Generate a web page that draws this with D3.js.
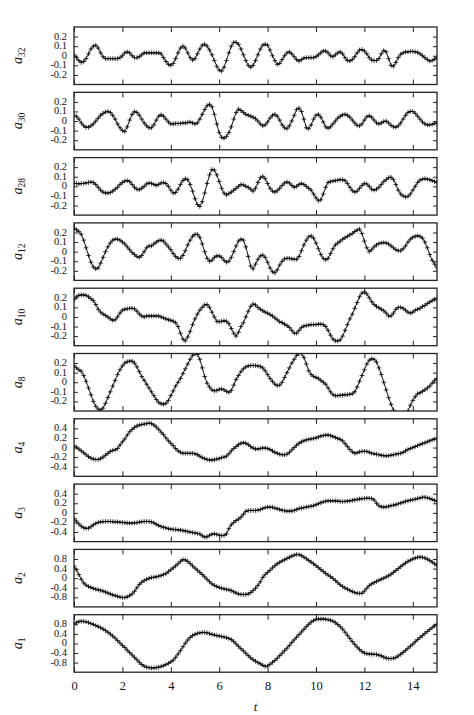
<!DOCTYPE html>
<html><head><meta charset="utf-8">
<script src="https://cdn.jsdelivr.net/npm/d3@7"></script>
<style>body{margin:0;background:#fff}</style>
</head><body><svg id="c" width="474" height="715"></svg>
<script>
// sampling grid of the time axis
const tStep = 0.1;
const xTicks = [0, 2, 4, 6, 8, 10, 12, 14];

const a32 = [0.01,-0.02,-0.05,-0.07,-0.06,-0.03,0.02,0.07,0.10,0.11, 0.08,0.03,-0.01,-0.03,-0.03,-0.03,-0.03,-0.03,-0.03,-0.02, 0.00,0.03,0.04,0.03,0.00,-0.02,-0.02,-0.01,0.01,0.03, 0.03,0.03,0.03,0.03,0.03,0.03,0.02,-0.02,-0.06,-0.09, -0.10,-0.08,-0.03,0.03,0.08,0.10,0.08,0.03,-0.02,-0.045, -0.03,0.02,0.07,0.11,0.12,0.10,0.06,0.01,-0.05,-0.11, -0.15,-0.16,-0.12,-0.05,0.03,0.10,0.14,0.14,0.12,0.07, 0.01,-0.05,-0.10,-0.12,-0.10,-0.05,0.01,0.07,0.11,0.12, 0.11,0.06,0.00,-0.05,-0.09,-0.08,-0.04,0.00,0.03,0.04, 0.02,-0.01,-0.04,-0.055,-0.04,-0.025,-0.02,-0.02,-0.02,-0.02, -0.01,0.01,0.03,0.05,0.05,0.03,0.00,-0.01,0.01,0.03, 0.04,0.02,-0.02,-0.05,-0.055,-0.04,-0.01,0.03,0.06,0.065, 0.05,0.02,-0.02,-0.045,-0.05,-0.05,-0.03,0.02,0.055,0.04, -0.03,-0.10,-0.11,-0.07,-0.02,0.015,0.03,0.04,0.04,0.045, 0.045,0.04,0.035,0.02,0.00,-0.02,-0.04,-0.055,-0.05,-0.035, -0.02];
const a30 = [0.05,0.05,0.02,-0.02,-0.05,-0.065,-0.065,-0.05,-0.03,0.00, 0.03,0.06,0.08,0.095,0.10,0.09,0.06,0.02,-0.03,-0.07, -0.10,-0.11,-0.06,0.01,0.07,0.10,0.09,0.06,0.02,-0.02, -0.05,-0.07,-0.07,-0.04,0.01,0.05,0.065,0.05,0.02,-0.01, -0.03,-0.03,-0.025,-0.025,-0.025,-0.02,-0.02,-0.015,-0.01,-0.02, -0.03,-0.02,0.02,0.07,0.12,0.16,0.175,0.15,0.07,-0.03, -0.12,-0.17,-0.18,-0.16,-0.12,-0.06,0.02,0.09,0.125,0.11, 0.09,0.07,0.06,0.05,0.04,0.025,0.00,-0.03,-0.05,-0.04, -0.01,0.03,0.06,0.07,0.05,0.01,-0.04,-0.07,-0.08,-0.05, 0.00,0.06,0.12,0.135,0.10,0.02,-0.07,-0.08,-0.04,0.02, 0.06,0.07,0.04,-0.01,-0.06,-0.075,-0.06,-0.03,0.00,0.03, 0.05,0.065,0.07,0.06,0.04,0.01,-0.02,-0.045,-0.05,-0.03, 0.01,0.045,0.055,0.04,0.01,-0.02,-0.03,-0.02,-0.005,0.00, -0.02,-0.045,-0.06,-0.065,-0.05,-0.02,0.02,0.06,0.09,0.10, 0.10,0.08,0.05,0.02,-0.01,-0.03,-0.04,-0.04,-0.035,-0.025, -0.02];
const a28 = [0.03,0.03,0.025,0.03,0.03,0.035,0.04,0.045,0.04,0.02, -0.01,-0.04,-0.06,-0.07,-0.07,-0.065,-0.05,-0.03,-0.01,0.02, 0.04,0.055,0.06,0.05,0.02,-0.01,-0.03,-0.035,-0.02,0.00, 0.025,0.035,0.03,0.02,0.01,0.02,0.035,0.04,0.03,0.00, -0.04,-0.07,-0.065,-0.03,0.02,0.06,0.08,0.07,0.02,-0.05, -0.13,-0.19,-0.21,-0.16,-0.07,0.03,0.12,0.175,0.17,0.12, 0.05,-0.02,-0.07,-0.09,-0.075,-0.06,-0.04,-0.02,0.00,0.02, 0.015,0.00,-0.01,-0.03,-0.05,-0.02,0.04,0.09,0.105,0.08, 0.03,-0.02,-0.05,-0.06,-0.045,-0.02,0.01,0.035,0.045,0.035, 0.01,-0.01,0.00,0.02,0.03,0.02,0.00,-0.02,-0.04,-0.08, -0.12,-0.15,-0.14,-0.08,-0.01,0.04,0.05,0.055,0.06,0.065, 0.07,0.07,0.06,0.03,-0.01,-0.045,-0.06,-0.05,-0.02,0.01, 0.03,0.025,0.00,-0.03,-0.04,-0.03,-0.01,0.02,0.05,0.07, 0.09,0.095,0.07,0.02,-0.04,-0.08,-0.10,-0.11,-0.105,-0.08, -0.04,0.00,0.04,0.065,0.075,0.08,0.075,0.07,0.06,0.05, 0.04];
const a12 = [0.24,0.23,0.21,0.18,0.12,0.04,-0.04,-0.11,-0.16,-0.18, -0.17,-0.12,-0.06,0.00,0.05,0.09,0.12,0.13,0.13,0.12, 0.10,0.08,0.05,0.02,-0.01,-0.03,-0.05,-0.06,-0.04,0.00, 0.04,0.06,0.06,0.08,0.10,0.115,0.12,0.11,0.08,0.05, 0.02,-0.02,-0.05,-0.07,-0.07,-0.04,0.01,0.07,0.12,0.16, 0.18,0.18,0.15,0.08,0.00,-0.07,-0.10,-0.09,-0.06,-0.045, -0.045,-0.06,-0.09,-0.11,-0.10,-0.06,0.00,0.06,0.11,0.13, 0.12,0.05,-0.05,-0.15,-0.18,-0.13,-0.08,-0.045,-0.035,-0.06, -0.11,-0.17,-0.21,-0.22,-0.19,-0.14,-0.10,-0.075,-0.07,-0.07, -0.075,-0.08,-0.08,-0.05,0.01,0.07,0.12,0.155,0.165,0.14, 0.09,0.03,-0.03,-0.07,-0.085,-0.07,-0.02,0.03,0.07,0.09, 0.11,0.13,0.145,0.16,0.175,0.19,0.21,0.225,0.235,0.19, 0.11,0.04,0.00,0.02,0.05,0.07,0.085,0.09,0.095,0.09, 0.08,0.06,0.04,0.02,0.01,0.01,0.03,0.06,0.10,0.13, 0.15,0.16,0.165,0.16,0.14,0.10,0.04,-0.03,-0.09,-0.13, -0.165];
const a10 = [0.18,0.21,0.225,0.23,0.23,0.225,0.21,0.19,0.17,0.13, 0.08,0.05,0.03,0.015,0.00,-0.02,-0.035,-0.03,0.00,0.04, 0.07,0.08,0.085,0.09,0.09,0.085,0.06,0.03,0.01,0.00, 0.01,0.01,0.01,0.01,0.01,0.01,0.00,-0.01,-0.02,-0.03, -0.035,-0.045,-0.06,-0.10,-0.17,-0.23,-0.25,-0.21,-0.15,-0.08, -0.02,0.03,0.07,0.10,0.125,0.13,0.10,0.05,0.00,-0.045, -0.05,-0.045,-0.04,-0.045,-0.07,-0.12,-0.17,-0.20,-0.16,-0.10, -0.06,0.00,0.06,0.11,0.135,0.125,0.10,0.08,0.065,0.05, 0.04,0.025,0.01,-0.01,-0.03,-0.05,-0.06,-0.075,-0.09,-0.11, -0.14,-0.17,-0.17,-0.14,-0.11,-0.095,-0.09,-0.085,-0.08,-0.08, -0.08,-0.075,-0.075,-0.08,-0.10,-0.14,-0.19,-0.23,-0.25,-0.25, -0.24,-0.20,-0.14,-0.08,-0.02,0.03,0.09,0.15,0.21,0.25, 0.26,0.24,0.20,0.16,0.13,0.11,0.095,0.08,0.065,0.04, 0.01,0.01,0.04,0.08,0.10,0.10,0.09,0.07,0.05,0.04, 0.05,0.07,0.08,0.09,0.11,0.12,0.14,0.155,0.17,0.18, 0.19];
const a8 = [0.17,0.15,0.13,0.115,0.07,0.01,-0.06,-0.13,-0.20,-0.25, -0.28,-0.29,-0.27,-0.22,-0.16,-0.10,-0.04,0.02,0.08,0.13, 0.17,0.20,0.215,0.22,0.22,0.20,0.16,0.11,0.06,0.02, -0.02,-0.06,-0.10,-0.14,-0.18,-0.21,-0.225,-0.23,-0.22,-0.19, -0.14,-0.09,-0.04,0.00,0.04,0.09,0.14,0.19,0.24,0.28, 0.30,0.29,0.24,0.15,0.06,-0.01,-0.05,-0.08,-0.09,-0.085, -0.075,-0.07,-0.08,-0.095,-0.105,-0.085,-0.03,0.03,0.07,0.11, 0.14,0.16,0.17,0.175,0.175,0.175,0.17,0.165,0.15,0.12, 0.08,0.04,0.01,-0.02,-0.035,-0.03,0.00,0.05,0.10,0.15, 0.20,0.24,0.28,0.30,0.30,0.26,0.19,0.12,0.08,0.06, 0.05,0.04,0.02,0.00,-0.02,-0.06,-0.10,-0.13,-0.14,-0.14, -0.135,-0.135,-0.13,-0.13,-0.125,-0.12,-0.10,-0.05,0.01,0.07, 0.13,0.19,0.23,0.245,0.24,0.21,0.15,0.08,0.00,-0.08, -0.16,-0.23,-0.29,-0.34,-0.37,-0.38,-0.37,-0.34,-0.30,-0.24, -0.19,-0.15,-0.12,-0.11,-0.095,-0.08,-0.06,-0.04,-0.01,0.02, 0.04];
const a4 = [0.03,0.01,-0.03,-0.07,-0.11,-0.15,-0.19,-0.22,-0.24,-0.25, -0.25,-0.23,-0.20,-0.16,-0.12,-0.08,-0.06,-0.05,-0.02,0.05, 0.12,0.18,0.26,0.33,0.38,0.42,0.45,0.47,0.48,0.49, 0.50,0.51,0.50,0.47,0.43,0.38,0.32,0.27,0.20,0.14, 0.09,0.04,-0.02,-0.07,-0.10,-0.12,-0.12,-0.12,-0.12,-0.12, -0.13,-0.15,-0.18,-0.21,-0.23,-0.25,-0.26,-0.26,-0.255,-0.24, -0.23,-0.21,-0.20,-0.18,-0.13,-0.07,-0.02,0.02,0.06,0.09, 0.10,0.09,0.06,0.02,-0.01,-0.03,-0.03,-0.02,-0.01,-0.01, -0.02,-0.04,-0.07,-0.10,-0.12,-0.14,-0.15,-0.15,-0.14,-0.10, -0.05,0.00,0.05,0.09,0.12,0.14,0.16,0.17,0.18,0.19, 0.20,0.22,0.24,0.25,0.26,0.26,0.25,0.23,0.21,0.19, 0.17,0.14,0.08,0.02,-0.04,-0.09,-0.12,-0.11,-0.09,-0.08, -0.08,-0.08,-0.10,-0.12,-0.13,-0.14,-0.15,-0.16,-0.17,-0.175, -0.17,-0.16,-0.15,-0.14,-0.13,-0.12,-0.10,-0.07,-0.04,-0.02, 0.00,0.02,0.04,0.065,0.08,0.10,0.12,0.14,0.16,0.175, 0.19];
const a3 = [-0.12,-0.17,-0.23,-0.28,-0.31,-0.325,-0.32,-0.29,-0.25,-0.22, -0.20,-0.19,-0.185,-0.18,-0.18,-0.18,-0.185,-0.19,-0.19,-0.195, -0.20,-0.205,-0.21,-0.215,-0.215,-0.21,-0.205,-0.195,-0.185,-0.18, -0.18,-0.18,-0.19,-0.21,-0.24,-0.265,-0.285,-0.30,-0.315,-0.33, -0.34,-0.345,-0.35,-0.355,-0.36,-0.37,-0.38,-0.39,-0.40,-0.41, -0.42,-0.43,-0.44,-0.48,-0.505,-0.50,-0.47,-0.445,-0.44,-0.45, -0.465,-0.475,-0.47,-0.44,-0.33,-0.25,-0.20,-0.16,-0.13,-0.09, -0.03,0.03,0.05,0.05,0.05,0.05,0.055,0.07,0.09,0.11, 0.12,0.12,0.115,0.10,0.085,0.07,0.055,0.045,0.035,0.035, 0.04,0.05,0.07,0.09,0.10,0.11,0.12,0.13,0.14,0.15, 0.17,0.19,0.21,0.23,0.24,0.25,0.25,0.25,0.25,0.245, 0.24,0.235,0.24,0.245,0.25,0.26,0.27,0.28,0.29,0.295, 0.30,0.305,0.305,0.30,0.27,0.20,0.15,0.125,0.12,0.125, 0.135,0.15,0.16,0.17,0.19,0.205,0.22,0.24,0.25,0.265, 0.275,0.285,0.30,0.31,0.325,0.325,0.315,0.30,0.28,0.26, 0.24];
const a2 = [0.50,0.35,0.15,-0.05,-0.20,-0.29,-0.35,-0.39,-0.43,-0.46, -0.49,-0.51,-0.54,-0.58,-0.62,-0.66,-0.70,-0.73,-0.76,-0.79, -0.81,-0.81,-0.78,-0.73,-0.66,-0.55,-0.40,-0.26,-0.17,-0.10, -0.05,-0.01,0.02,0.04,0.055,0.08,0.11,0.15,0.19,0.27, 0.35,0.43,0.51,0.60,0.70,0.77,0.76,0.70,0.61,0.51, 0.42,0.33,0.24,0.15,0.055,-0.05,-0.15,-0.24,-0.30,-0.35, -0.39,-0.42,-0.45,-0.47,-0.49,-0.52,-0.57,-0.62,-0.66,-0.68, -0.68,-0.68,-0.66,-0.60,-0.52,-0.42,-0.30,-0.15,0.03,0.15, 0.24,0.33,0.43,0.52,0.60,0.66,0.72,0.77,0.82,0.87, 0.92,0.96,0.99,0.98,0.94,0.88,0.81,0.74,0.67,0.60, 0.52,0.44,0.36,0.28,0.20,0.13,0.06,-0.01,-0.10,-0.19, -0.28,-0.35,-0.41,-0.46,-0.51,-0.56,-0.60,-0.63,-0.64,-0.63, -0.54,-0.42,-0.31,-0.24,-0.19,-0.14,-0.09,-0.04,0.00,0.05, 0.10,0.16,0.24,0.32,0.40,0.48,0.56,0.63,0.70,0.75, 0.80,0.84,0.87,0.88,0.87,0.84,0.79,0.74,0.67,0.60, 0.54];
const a1 = [0.80,0.87,0.91,0.93,0.92,0.90,0.87,0.83,0.79,0.75, 0.70,0.66,0.60,0.54,0.47,0.39,0.31,0.22,0.12,0.02, -0.08,-0.17,-0.28,-0.38,-0.48,-0.58,-0.68,-0.79,-0.88,-0.95, -0.99,-1.01,-1.02,-1.02,-1.01,-0.99,-0.96,-0.93,-0.88,-0.83, -0.77,-0.70,-0.58,-0.44,-0.30,-0.14,0.01,0.14,0.25,0.33, 0.38,0.42,0.44,0.46,0.46,0.44,0.41,0.38,0.35,0.33, 0.31,0.29,0.27,0.24,0.21,0.16,0.08,-0.02,-0.12,-0.22, -0.31,-0.41,-0.51,-0.60,-0.68,-0.74,-0.80,-0.85,-0.91,-0.96, -0.94,-0.87,-0.79,-0.71,-0.62,-0.51,-0.41,-0.30,-0.20,-0.08, 0.04,0.15,0.26,0.37,0.48,0.59,0.70,0.80,0.89,0.96, 1.00,1.02,1.02,1.02,1.01,0.99,0.97,0.93,0.87,0.79, 0.70,0.60,0.47,0.34,0.21,0.08,-0.04,-0.15,-0.25,-0.34, -0.40,-0.43,-0.44,-0.45,-0.45,-0.46,-0.49,-0.52,-0.57,-0.61, -0.63,-0.63,-0.62,-0.59,-0.52,-0.45,-0.37,-0.29,-0.20,-0.11, -0.03,0.07,0.16,0.25,0.33,0.42,0.50,0.58,0.66,0.73, 0.80];

const seriesNames = ["32","30","28","12","10","8","4","3","2","1"];
const seriesValues = [a32, a30, a28, a12, a10, a8, a4, a3, a2, a1];
const ticksSmall = [0.2, 0.1, 0, -0.1, -0.2];
const ticksMid = [0.4, 0.2, 0, -0.2, -0.4];
const ticksLarge = [0.8, 0.4, 0, -0.4, -0.8];
const seriesTicks = [ticksSmall, ticksSmall, ticksSmall, ticksSmall, ticksSmall, ticksSmall, ticksMid, ticksMid, ticksLarge, ticksLarge];
const seriesLimits = [0.3, 0.3, 0.3, 0.3, 0.3, 0.3, 0.6, 0.6, 1.2, 1.2];

const svg = d3.select("#c");
const L = 74, R = 437, TOP0 = 27, PITCH = 65.3, PH = 57.5;
const serif = "'Liberation Serif','Times New Roman',serif";

const x = d3.scaleLinear().domain([0, 15]).range([L, R]);

seriesValues.forEach((vals, i) => {
  const top = TOP0 + i * PITCH, bot = top + PH;
  const lim = seriesLimits[i];
  const y = d3.scaleLinear().domain([-lim, lim]).range([bot, top]);
  const data = vals.map((v, k) => ({t: k * tStep, v}));
  const g = svg.append("g");

  const cid = "clip" + i;
  svg.append("clipPath").attr("id", cid).append("rect")
    .attr("x", L).attr("y", top).attr("width", R - L).attr("height", PH);

  const body = g.append("g").attr("clip-path", `url(#${cid})`);
  body.append("path").datum(data)
    .attr("fill", "none").attr("stroke", "#000").attr("stroke-width", 0.9)
    .attr("d", d3.line().x(d => x(d.t)).y(d => y(d.v)));
  body.selectAll("path.m").data(data).join("path").attr("class", "m")
    .attr("d", d => `M${x(d.t) - 2.3},${y(d.v)}h4.6M${x(d.t)},${y(d.v) - 2.3}v4.6`)
    .attr("stroke", "#000").attr("stroke-width", 0.8).attr("fill", "none");

  // axes
  const yl = g.append("g").attr("transform", `translate(${L},0)`)
    .call(d3.axisLeft(y).tickValues(seriesTicks[i]).tickSizeInner(-4).tickSizeOuter(0).tickPadding(7)
      .tickFormat(d => String(d)));
  yl.selectAll("text").attr("font-family", serif).attr("font-size", 10.5).attr("fill", "#111").attr("dy", "0.24em");
  const yr = g.append("g").attr("transform", `translate(${R},0)`)
    .call(d3.axisRight(y).tickValues(seriesTicks[i]).tickSizeInner(-4).tickSizeOuter(0).tickFormat(""));
  const xt = g.append("g").attr("transform", `translate(0,${top})`)
    .call(d3.axisTop(x).tickValues(xTicks).tickSizeInner(-5).tickSizeOuter(0).tickFormat(""));
  const xb = g.append("g").attr("transform", `translate(0,${bot})`)
    .call(d3.axisBottom(x).tickValues(xTicks).tickSizeInner(-5).tickSizeOuter(0).tickPadding(9)
      .tickFormat(i === seriesValues.length - 1 ? (d => String(d)) : ""));
  xb.selectAll("text").attr("font-family", serif).attr("font-size", 12.5).attr("fill", "#111");
  [yl, yr, xt, xb].forEach(a => {
    a.select(".domain").remove();
    a.selectAll("line").attr("stroke", "#222").attr("stroke-width", 1);
  });

  g.append("rect").attr("x", L).attr("y", top).attr("width", R - L).attr("height", PH)
    .attr("fill", "none").attr("stroke", "#222").attr("stroke-width", 1.3);

  // series label
  const lab = g.append("text")
    .attr("transform", `translate(22,${(top + bot) / 2}) rotate(-90)`)
    .attr("text-anchor", "middle").attr("font-family", serif).attr("fill", "#111");
  lab.append("tspan").attr("font-style", "italic").attr("font-size", 14).text("a");
  lab.append("tspan").attr("font-size", 9.5).attr("dy", 3).text(seriesNames[i]);
});

svg.append("text").attr("x", x(7.5)).attr("y", 711).attr("text-anchor", "middle")
  .attr("font-family", serif).attr("font-style", "italic").attr("font-size", 13).attr("fill", "#111").text("t");
</script></body></html>
